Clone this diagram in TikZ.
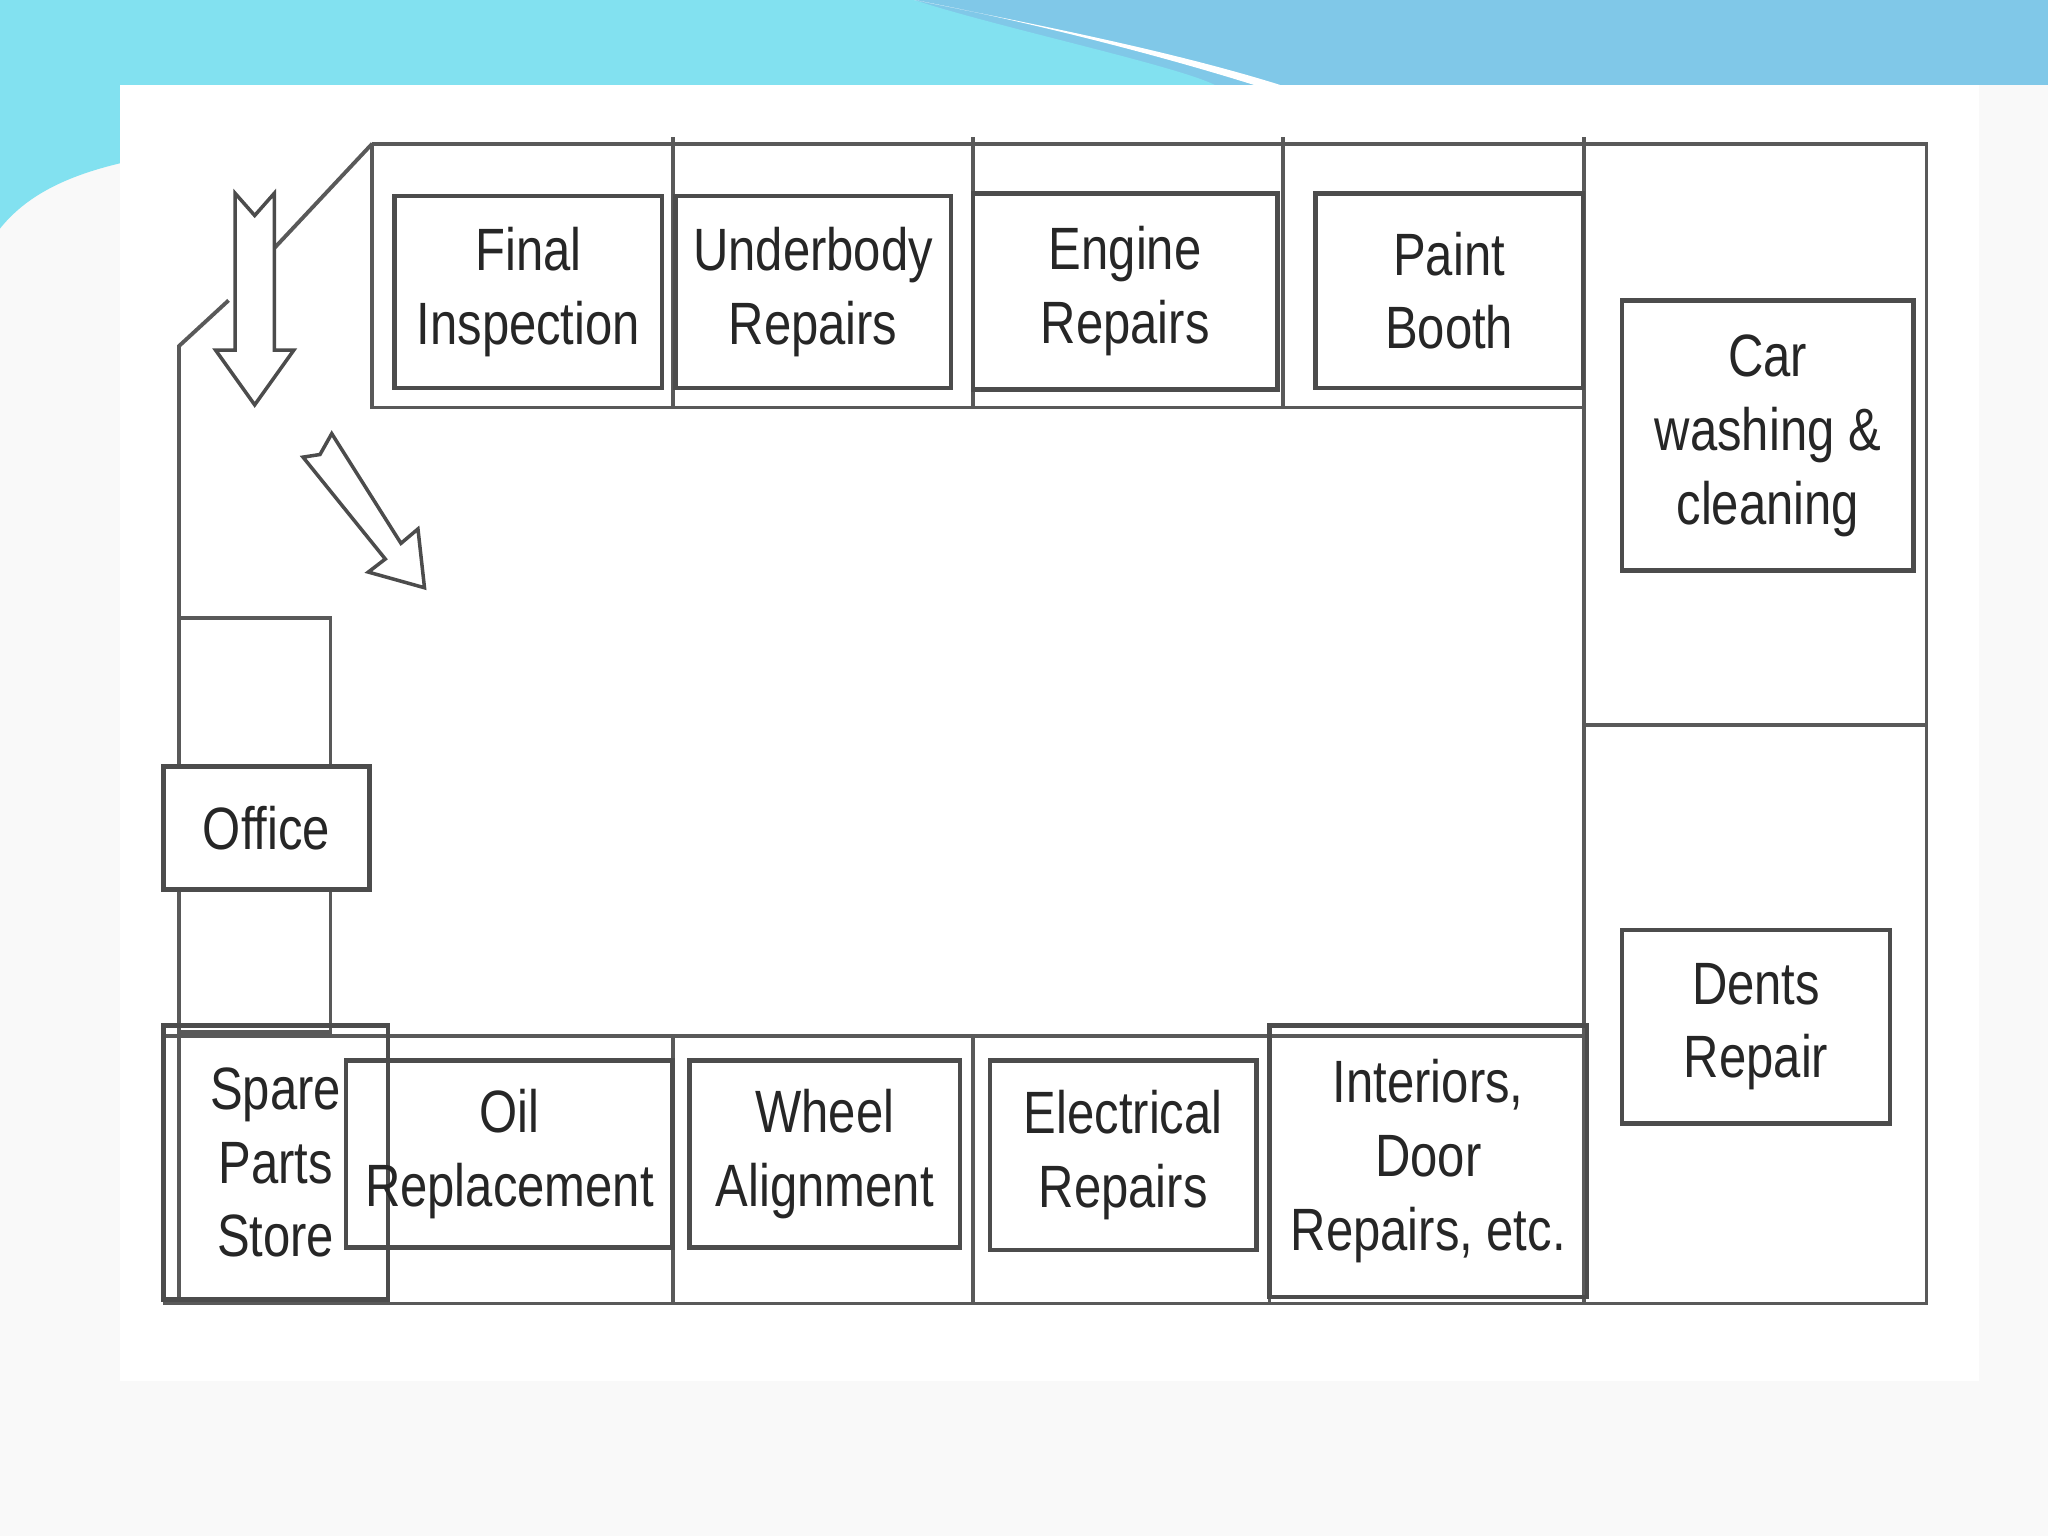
\documentclass[tikz,border=0pt]{standalone}
\usepackage{fontspec}
\setmainfont{Liberation Sans}[FakeStretch=0.82]
\usetikzlibrary{fit}
\definecolor{bandR}{RGB}{128,200,232}
\definecolor{bandL}{RGB}{130,225,240}
\begin{document}
\begin{tikzpicture}[x=0.013061cm,y=-0.013061cm,
  wall/.style={draw=black!65,line width=1.1pt},
  room/.style={draw=black!70,line width=1.3pt,inner sep=0pt},
  txt/.style={align=center,font=\fontsize{17}{21}\selectfont,inner sep=0pt,text=black!85},
  arr/.style={draw=black!70,line width=1pt,fill=white}]
\useasboundingbox (0,0) rectangle (1568,1176);
\fill[gray!5] (0,0) rectangle (1568,1176);
\fill[bandR] (0,0) rectangle (1568,65);
\fill[bandL] (0,0) -- (700,0) .. controls (760,20) and (900,50) .. (930,65) -- (92,65) -- (92,125) .. controls (50,135) and (20,150) .. (0,175) -- cycle;
\fill[white] (700,0) .. controls (800,20) and (900,40) .. (980,65) -- (960,65) .. controls (880,40) and (780,15) .. (700,0);
\fill[white] (92,65) rectangle (1515,1057);
% walls
\draw[wall] (285,110) -- (1475,110) -- (1475,998) -- (125,998);
\draw[wall] (137,998) -- (137,265) -- (175,230);
\draw[wall] (285,110) -- (210,190);
\draw[wall] (285,110) -- (285,312) -- (1213,312);
\foreach \x in {515,745,982,1213} \draw[wall] (\x,105) -- (\x,312);
\draw[wall] (1213,110) -- (1213,998);
\draw[wall] (1213,555) -- (1475,555);
\draw[wall] (137,473) rectangle (253,790);
\draw[wall] (125,793) -- (1213,793);
\foreach \x in {515,745,972} \draw[wall] (\x,793) -- (\x,998);
% arrows
\draw[arr] (180,148) -- (180,268) -- (165,268) -- (195,310) -- (225,268) -- (210,268) -- (210,148) -- (195,165) -- cycle;
\draw[arr] (232,350) -- (295,428) -- (282,438) -- (325,450) -- (320,405) -- (307,416) -- (254,332) -- (245,348) -- cycle;
% rooms
\node[room,fit={(302,150) (507,297)}] (fi) {};
\node[room,fit={(517,150) (728,297)}] (ub) {};
\node[room,fit={(745,148) (978,298)}] (er) {};
\node[room,fit={(1007,148) (1212,297)}] (pb) {};
\node[room,fit={(1242,230) (1465,437)}] (cw) {};
\node[room,fit={(1242,712) (1447,860)}] (dr) {};
\node[room,fill=white,fit={(125,587) (283,681)}] (of) {};
\node[room,fit={(125,785) (297,995)}] (sp) {};
\node[room,fit={(265,812) (515,955)}] (oil) {};
\node[room,fit={(528,812) (735,955)}] (wa) {};
\node[room,fit={(758,812) (962,957)}] (el) {};
\node[room,fit={(972,785) (1215,993)}] (in) {};
\node[txt] (fit) at (fi.center) {Final\\Inspection};
\node[txt] (ubt) at (ub.center) {Underbody\\Repairs};
\node[txt] (ert) at (er.center) {Engine\\Repairs};
\node[txt] (pbt) at (pb.center) {Paint\\Booth};
\node[txt] (cwt) at (cw.center) {Car\\washing \&\\cleaning};
\node[txt] (drt) at (dr.center) {Dents\\Repair};
\node[txt] (oft) at (of.center) {Office};
\node[txt] (spt) at (sp.center) {Spare\\Parts\\Store};
\node[txt] (oilt) at (oil.center) {Oil\\Replacement};
\node[txt] (wat) at (wa.center) {Wheel\\Alignment};
\node[txt] (elt) at (el.center) {Electrical\\Repairs};
\node[txt] (int) at (in.center) {Interiors,\\Door\\Repairs, etc.};
\end{tikzpicture}
\end{document}
